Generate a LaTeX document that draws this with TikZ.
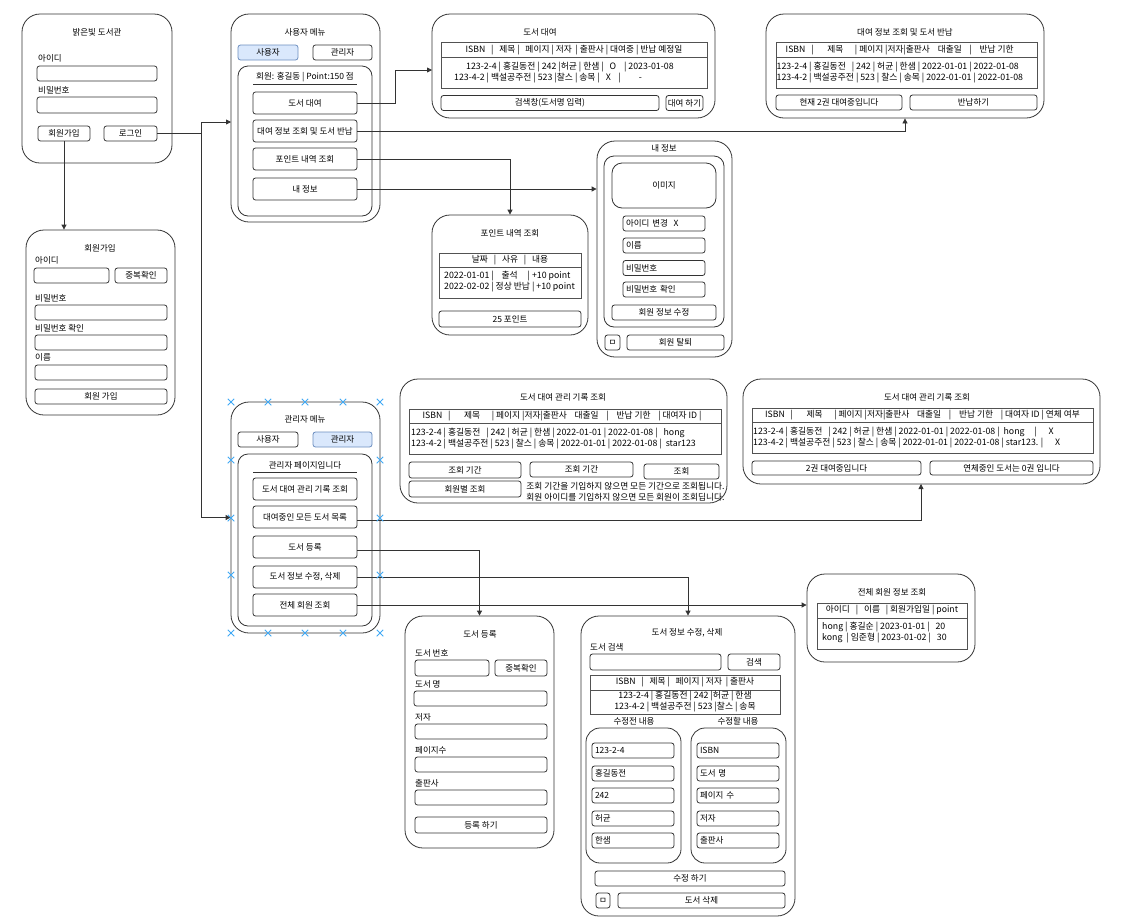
\documentclass[tikz,border=0pt]{standalone}
\usepackage{fontspec}
\setmainfont{Noto Sans CJK KR}
\usetikzlibrary{arrows.meta}
\usetikzlibrary{shapes.misc}
\definecolor{lineGray}{HTML}{333333}
\definecolor{tabFill}{HTML}{DAE8FC}
\definecolor{tabLine}{HTML}{6C8EBF}
\definecolor{handleBlue}{HTML}{3FA9F5}
\tikzset{
 wh/.style 2 args={minimum width=#1pt,minimum height=#2pt},
 base/.style={draw=lineGray,line width=.8pt,inner sep=0pt,font=\fontsize{8.5}{9}\selectfont},
 panel/.style={base,rounded corners=18pt},
 inner/.style={base,rounded corners=10pt},
 btn/.style={base,rounded corners=2.5pt},
 lbtn/.style 2 args={btn,text width=#1pt,minimum height=#2pt,align=left,inner xsep=3pt},
 tab/.style={btn,fill=tabFill,draw=tabLine},
 tbl/.style={base,draw=lineGray!85,line width=1pt,font=\fontsize{8.7}{9}\selectfont},
 lbl/.style={inner sep=0pt,font=\fontsize{8.5}{9}\selectfont},
 west/.style={lbl,anchor=west},
 row/.style={inner sep=0pt,anchor=west,font=\fontsize{8.8}{9}\selectfont},
 conn/.style={draw=lineGray,line width=.8pt,-{Triangle[length=5pt,width=5pt]}},
 handle/.style={cross out,draw=handleBlue,line width=1pt,minimum size=5.5pt,inner sep=0pt},
}
\begin{document}
\begin{tikzpicture}[x=1pt,y=-1pt]
 \useasboundingbox (0,0) rectangle (1127,919);
 %login
 \node[panel,wh={150}{149}] (loginPanel) at (97,88.5) {};
 \node[lbl] (loginTitle) at (97,32) {밝은빛 도서관};
 \node[west] (loginIdLbl) at (38,58) {아이디};
 \node[btn,wh={120}{15}] (loginId) at (97,73.5) {};
 \node[west] (loginPwLbl) at (38,90) {비밀번호};
 \node[btn,wh={120}{16}] (loginPw) at (97,105) {};
 \node[btn,wh={52}{15}] (btnJoin) at (64,133.5) {회원가입};
 \node[btn,wh={53}{15}] (btnLogin) at (130.5,133.5) {로그인};
 %join
 \node[panel,wh={149}{185}] (joinPanel) at (100.5,322.5) {};
 \node[lbl] (joinTitle) at (100,248) {회원가입};
 \node[west] (joinIdLbl) at (35,260) {아이디};
 \node[btn,wh={75}{15}] (joinId) at (71.5,275.5) {};
 \node[btn,wh={52}{15}] (joinCheck) at (141,275.5) {중복확인};
 \node[west] (joinPwLbl) at (35,298) {비밀번호};
 \node[btn,wh={132}{15}] (joinPw) at (101,312.5) {};
 \node[west] (joinPw2Lbl) at (35,328) {비밀번호 확인};
 \node[btn,wh={132}{15}] (joinPw2) at (101,342.5) {};
 \node[west] (joinNameLbl) at (35,357) {이름};
 \node[btn,wh={132}{15}] (joinName) at (101,372.5) {};
 \node[btn,wh={132}{15}] (joinBtn) at (101,396.5) {회원 가입};
 %user menu
 \node[panel,wh={149}{208}] (userPanel) at (305.5,118) {};
 \node[lbl] (userTitle) at (305,32) {사용자 메뉴};
 \node[tab,wh={60}{15}] (userTabU) at (268,52.5) {사용자};
 \node[btn,wh={59}{15}] (userTabA) at (342.5,52.5) {관리자};
 \node[inner,wh={134}{150}] (userInner) at (305,141) {};
 \node[lbl] (userName) at (305,77) {회원: 홍길동 | Point:150 점};
 \draw[lineGray,line width=.6pt] (253,84) -- (357,84);
 \node[btn,wh={104}{22}] (uLoan) at (305,103) {도서 대여};
 \node[btn,wh={104}{22}] (uReturn) at (305,131) {대여 정보 조회 및 도서 반납};
 \node[btn,wh={104}{22}] (uPoint) at (305,159) {포인트 내역 조회};
 \node[btn,wh={104}{22}] (uInfo) at (305,189) {내 정보};
 %loan
 \node[panel,wh={283}{104}] (loanPanel) at (573.5,66) {};
 \node[lbl] (loanTitle) at (540,32) {도서 대여};
 \node[tbl,wh={266}{14.5}] (loanHead) at (574,50) {ISBN~~~|~~~제목~|~~~페이지 | 저자~~| 출판사 | 대여중 | 반납 예정일};
 \node[tbl,wh={266}{31.5}] (loanBody) at (574,73) {};
 \node[row] (loanRowA) at (466,67) {123-2-4 | 홍길동전 | 242 |허균 | 한샘 |~~~O~~~~| 2023-01-08};
 \node[row] (loanRowB) at (454,78) {123-4-2 | 백설공주전 | 523 |찰스 | 송목 |~~~X~~~~|~~~~~~~~~-};
 \node[btn,wh={218}{15}] (loanSearch) at (550,103) {검색창(도서명 입력)};
 \node[btn,wh={37}{15}] (loanDo) at (684.5,103) {대여 하기};
 %return
 \node[panel,wh={278}{104}] (retPanel) at (905,66) {};
 \node[lbl] (retTitle) at (905,32) {대여 정보 조회 및 도서 반납};
 \node[tbl,wh={261}{14.5}] (retHead) at (906.5,50) {ISBN~~~|~~~~~~~제목~~~~~~| 페이지 |저자|출판사~~~~대출일~~~~|~~~~반납 기한~~~~~~~~};
 \node[tbl,wh={261}{31.5}] (retBody) at (906.5,73) {};
 \node[row] (retRowA) at (776.5,67) {123-2-4 | 홍길동전~~~| 242 | 허균 | 한샘 | 2022-01-01 | 2022-01-08};
 \node[row] (retRowB) at (776.5,78) {123-4-2 | 백설공주전 | 523 | 찰스 | 송목 | 2022-01-01 | 2022-01-08};
 \node[btn,wh={126}{15}] (retNow) at (839,102.5) {현재 2권 대여중입니다};
 \node[btn,wh={127}{15}] (retDo) at (973.5,102.5) {반납하기};
 %my info
 \node[panel,wh={135}{216}] (infoPanel) at (664.5,249) {};
 \node[lbl] (infoTitle) at (664,148.5) {내 정보};
 \node[inner,wh={120}{171}] (infoInner) at (664,241.5) {};
 \node[inner,wh={104}{45}] (infoImg) at (664,185.5) {이미지};
 \node[lbtn={76}{15}] (infoId) at (664,223.5) {아이디 변경~~X};
 \node[lbtn={76}{15}] (infoName) at (664,245.5) {이름};
 \node[lbtn={76}{15}] (infoPw) at (664,268) {비밀번호};
 \node[lbtn={76}{15}] (infoPw2) at (664,289.5) {비밀번호 확인};
 \node[btn,wh={104}{15}] (infoEdit) at (664,312.5) {회원 정보 수정};
 \node[btn,wh={15}{15}] (infoBox) at (612.5,342.5) {ㅁ};
 \node[btn,wh={97}{15}] (infoQuit) at (675.5,342.5) {회원 탈퇴};
 %points
 \node[panel,wh={156}{120}] (pointPanel) at (510,275) {};
 \node[lbl] (pointTitle) at (510,233) {포인트 내역 조회};
 \node[tbl,wh={142}{14}] (pointHead) at (510,260) {날짜~~~|~~~사유~~~|~~~내용};
 \node[tbl,wh={142}{31}] (pointBody) at (510,282.5) {};
 \node[row] (pointRowA) at (444,276) {2022-01-01 |~~~~출석~~~~~| +10 point};
 \node[row] (pointRowB) at (444,287) {2022-02-02 | 정상 반납 | +10 point};
 \node[btn,wh={142}{16}] (pointSum) at (510,319) {25 포인트};
 %admin menu
 \node[panel,wh={149}{231}] (adminPanel) at (305.5,517.5) {};
 \node[lbl] (adminTitle) at (305,419) {관리자 메뉴};
 \node[btn,wh={60}{15}] (adminTabU) at (268,439.5) {사용자};
 \node[tab,wh={59}{15}] (adminTabA) at (342.5,439.5) {관리자};
 \node[inner,wh={134}{172}] (adminInner) at (305,540) {};
 \node[lbl] (adminHello) at (305,465) {관리자 페이지입니다};
 \draw[lineGray,line width=.6pt] (253,472) -- (357,472);
 \node[btn,wh={104}{22}] (aLog) at (305,489) {도서 대여 관리 기록 조회};
 \node[btn,wh={104}{22}] (aAll) at (305,517) {대여중인 모든 도서 목록};
 \node[btn,wh={104}{22}] (aReg) at (305,547) {도서 등록};
 \node[btn,wh={104}{22}] (aEdit) at (305,577) {도서 정보 수정, 삭제};
 \node[btn,wh={104}{22}] (aMem) at (305,605) {전체 회원 조회};
 %log
 \node[panel,wh={327}{124}] (logPanel) at (563.5,441) {};
 \node[lbl] (logTitle) at (563,397) {도서 대여 관리 기록 조회};
 \node[tbl,wh={312}{14}] (logHead) at (565,416) {ISBN~~~|~~~~~~~제목~~~~~~| 페이지 |저자|출판사~~~~대출일~~~~|~~~~반납 기한~~~~| 대여자 ID |~~~~};
 \node[tbl,wh={312}{31}] (logBody) at (565,438.5) {};
 \node[row] (logRowA) at (411,433) {123-2-4 | 홍길동전~~~| 242 | 허균 | 한샘 | 2022-01-01 | 2022-01-08 |~~~hong};
 \node[row] (logRowB) at (411,444) {123-4-2 | 백설공주전 | 523 | 찰스 | 송목 | 2022-01-01 | 2022-01-08 |~~star123};
 \node[btn,wh={112}{16}] (logFrom) at (465,470) {조회 기간};
 \node[btn,wh={103}{15}] (logTo) at (581.5,469.5) {조회 기간};
 \node[btn,wh={75}{15}] (logGo) at (681.5,471.5) {조회};
 \node[btn,wh={112}{16}] (logMem) at (465,489) {회원별 조회};
 \node[lbl,font=\fontsize{8.7}{9}\selectfont] (logNoteA) at (625.5,486) {조회 기간을 기입하지 않으면 모든 기간으로 조회됩니다.};
 \node[lbl,font=\fontsize{8.7}{9}\selectfont] (logNoteB) at (625.5,497) {회원 아이디를 기입하지 않으면 모든 회원이 조회딥니다.};
 %overdue
 \node[panel,wh={357}{105}] (duePanel) at (921.5,431.5) {};
 \node[lbl] (dueTitle) at (927,397) {도서 대여 관리 기록 조회};
 \node[tbl,wh={341}{14}] (dueHead) at (922.5,415) {ISBN~~~|~~~~~~~제목~~~~~~| 페이지 |저자|출판사~~~~대출일~~~~|~~~~반납 기한~~~~| 대여자 ID | 연체 여부};
 \node[tbl,wh={341}{31}] (dueBody) at (922.5,437.5) {};
 \node[row] (dueRowA) at (753,432) {123-2-4 | 홍길동전~~~| 242 | 허균 | 한샘 | 2022-01-01 | 2022-01-08 |~~hong~~~~~|~~~~~~X};
 \node[row] (dueRowB) at (753,443) {123-4-2 | 백설공주전 | 523 | 찰스 | 송목 | 2022-01-01 | 2022-01-08 | star123. |~~~~~~X};
 \node[btn,wh={169}{14}] (dueNow) at (836.5,468) {2권 대여중입니다};
 \node[btn,wh={163}{14}] (dueLate) at (1011.5,468) {연체중인 도서는 0권 입니다};
 %members
 \node[panel,wh={168}{88}] (memPanel) at (891,618) {};
 \node[lbl] (memTitle) at (892,592) {전체 회원 정보 조회};
 \node[tbl,wh={150}{15}] (memHead) at (892,610.5) {아이디~~~|~~~이름~~~| 회원가입일 | point};
 \node[tbl,wh={150}{31}] (memBody) at (892,633.5) {};
 \node[row] (memRowA) at (822,627) {hong~| 홍길순 | 2023-01-01 |~~~20};
 \node[row] (memRowB) at (822,638) {kong~~| 임준형 | 2023-01-02 |~~~30};
 %register
 \node[panel,wh={149}{232}] (regPanel) at (479.5,732) {};
 \node[lbl] (regTitle) at (480,634) {도서 등록};
 \node[west] (regNoLbl) at (415,653) {도서 번호};
 \node[btn,wh={74}{16}] (regNo) at (452,668) {};
 \node[btn,wh={52}{16}] (regCheck) at (521,668) {중복확인};
 \node[west] (regNameLbl) at (415,684) {도서 명};
 \node[btn,wh={133}{15}] (regName) at (480.5,698.5) {};
 \node[west] (regAuthLbl) at (415,717) {저자};
 \node[btn,wh={132}{15}] (regAuth) at (481,731.5) {};
 \node[west] (regPageLbl) at (415,750) {페이지수};
 \node[btn,wh={132}{15}] (regPage) at (481,764.5) {};
 \node[west] (regPubLbl) at (415,783) {출판사};
 \node[btn,wh={132}{15}] (regPub) at (481,797.5) {};
 \node[btn,wh={132}{16}] (regDo) at (481,825) {등록 하기};
 %edit
 \node[panel,wh={214}{300}] (editPanel) at (688,766) {};
 \node[lbl] (editTitle) at (687,633) {도서 정보 수정, 삭제};
 \node[west] (editFindLbl) at (590,647) {도서 검색};
 \node[btn,wh={131}{16}] (editFind) at (655.5,662) {};
 \node[btn,wh={52}{16}] (editGo) at (754,662) {검색};
 \node[tbl,wh={190}{15}] (editHead) at (685,682.5) {ISBN~~~|~~~제목~|~~~페이지 | 저자~~| 출판사};
 \node[tbl,wh={190}{24}] (editBody) at (685,702) {};
 \node[lbl,font=\fontsize{8.8}{9}\selectfont] (editRowA) at (685,696) {123-2-4 | 홍길동전 | 242 |허균 | 한샘};
 \node[lbl,font=\fontsize{8.8}{9}\selectfont] (editRowB) at (685,707) {123-4-2 | 백설공주전 | 523 |찰스 | 송목};
 \node[lbl] (editOldLbl) at (634,721) {수정전 내용};
 \node[lbl] (editNewLbl) at (738,721) {수정할 내용};
 \node[inner,rounded corners=14pt,wh={95}{135}] (editOld) at (633.5,795.5) {};
 \node[inner,rounded corners=14pt,wh={95}{135}] (editNew) at (738.5,795.5) {};
 \node[lbtn={76}{15}] (oldA) at (633,750.5) {123-2-4};
 \node[lbtn={76}{15}] (oldB) at (633,773.5) {홍길동전};
 \node[lbtn={76}{15}] (oldC) at (633,795.5) {242};
 \node[lbtn={76}{15}] (oldD) at (633,818.5) {허균};
 \node[lbtn={76}{15}] (oldE) at (633,840.5) {한샘};
 \node[lbtn={76}{15}] (newA) at (738,750.5) {ISBN};
 \node[lbtn={76}{15}] (newB) at (738,773.5) {도서 명};
 \node[lbtn={76}{15}] (newC) at (738,795.5) {페이지 수};
 \node[lbtn={76}{15}] (newD) at (738,818.5) {저자};
 \node[lbtn={76}{15}] (newE) at (738,840.5) {출판사};
 \node[btn,wh={190}{15}] (editDo) at (690,878.5) {수정 하기};
 \node[btn,wh={14}{15}] (editBox) at (603,900.5) {ㅁ};
 \node[btn,wh={167}{15}] (editDel) at (701.5,900.5) {도서 삭제};
 %connectors
 \coordinate (userIn) at (231,122);
 \coordinate (loanIn) at (432,70);
 \draw[conn] (btnLogin.east) -- ++(44,0) |- (userIn);
 \draw[conn] (btnLogin.east) -- ++(44,0) |- (adminPanel.west);
 \draw[conn] (btnJoin.south) -- (btnJoin.south |- joinPanel.north);
 \draw[conn] (uLoan.east) -- ++(38,0) |- (loanIn);
 \draw[conn] (uReturn.east) -| (retPanel.south);
 \draw[conn] (uPoint.east) -| (pointPanel.north);
 \draw[conn] (uInfo.east) -- (uInfo.east -| infoPanel.west);
 \coordinate (dueIn) at (921,484);
 \draw[conn] ([yshift=-3pt]aAll.east) -| (dueIn);
 \draw[conn] (aReg.east |- 0,550) -| (regPanel.north);
 \draw[conn] (aEdit.east) -| (editPanel.north);
 \draw[conn] (aMem.east) -- (aMem.east -| memPanel.west);
 %handles
 \foreach \x in {231,268,305,343,380}
 {
 \node[handle] (hTop\x) at (\x,402) {};
 \node[handle] (hBot\x) at (\x,633) {};
 }
 \foreach \y in {460,518,575}
 {
 \node[handle] (hLeft\y) at (231,\y) {};
 \node[handle] (hRight\y) at (380,\y) {};
 }
\end{tikzpicture}
\end{document}
